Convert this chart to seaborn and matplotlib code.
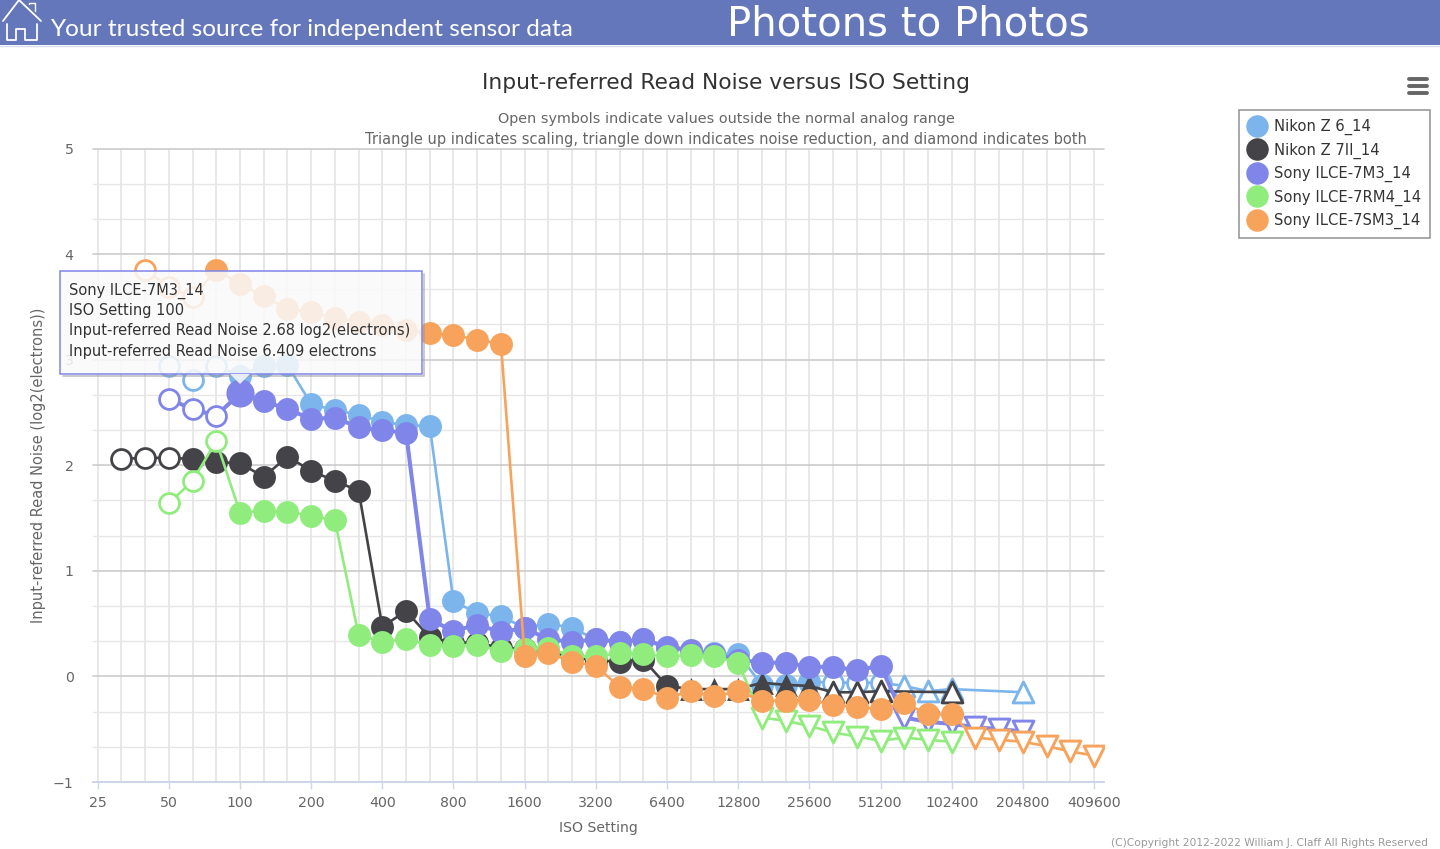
import matplotlib
matplotlib.use("Agg")
import matplotlib.pyplot as plt
from matplotlib.lines import Line2D
from matplotlib.patches import FancyBboxPatch, Polygon, Rectangle
from matplotlib.ticker import FixedLocator, FixedFormatter, NullFormatter
import numpy as np
import pandas as pd
import seaborn as sns

# ISO settings in third stops, from 25 up to 409600
iso_steps = [25, 31.5, 39.7, 50, 63, 79.4, 100, 126, 158.7, 200, 252, 317.5, 400, 504, 635,
             800, 1008, 1270, 1600, 2016, 2540, 3200, 4032, 5080, 6400, 8063, 10159, 12800,
             16127, 20319, 25600, 32254, 40637, 51200, 64508, 81275, 102400, 129016, 162550,
             204800, 258032, 325100, 409600]
iso_ticks = [25, 50, 100, 200, 400, 800, 1600, 3200, 6400, 12800, 25600, 51200, 102400, 204800, 409600]
iso_labels = ["25", "50", "100", "200", "400", "800", "1600", "3200", "6400", "12800", "25600",
              "51200", "102400", "204800", "409600"]
noise_ticks = [-1, 0, 1, 2, 3, 4, 5]

names = ["Nikon Z 6_14", "Nikon Z 7II_14", "Sony ILCE-7M3_14", "Sony ILCE-7RM4_14", "Sony ILCE-7SM3_14"]

z6_noise = [None] * 3 + [2.94, 2.81, 2.94, 2.85, 2.94, 2.95, 2.58, 2.52, 2.48, 2.41, 2.38, 2.37,
                         0.71, 0.60, 0.57, 0.46, 0.50, 0.46, 0.35, 0.33, 0.35, 0.27, 0.24, 0.22, 0.21,
                         -0.08, -0.08, -0.05, -0.06, -0.06, -0.06, -0.09, -0.14, -0.12,
                         None, None, -0.15] + [None] * 3
z6_state = ["open"] * 3 + ["fill"] * 25 + ["open"] * 3 + ["up"] * 4

z7_noise = [None] + [2.06, 2.07, 2.07, 2.06, 2.03, 2.02, 1.89, 2.08, 1.95, 1.85, 1.76,
                     0.47, 0.62, 0.37, 0.32, 0.32, 0.27, 0.26, 0.24, 0.18, 0.15, 0.14, 0.16, -0.09,
                     -0.12, -0.12, -0.12, -0.06, -0.08, -0.09, -0.15, -0.15, -0.14,
                     None, None, -0.15] + [None] * 6
z7_state = ["open"] * 3 + ["fill"] * 21 + ["up_fill"] * 6 + ["up"] * 4

m3_noise = [None] * 3 + [2.63, 2.53, 2.47, 2.68, 2.61, 2.53, 2.44, 2.45, 2.36, 2.33, 2.31,
                         0.54, 0.43, 0.49, 0.42, 0.46, 0.35, 0.33, 0.35, 0.33, 0.35, 0.28, 0.25, 0.21,
                         0.16, 0.13, 0.13, 0.09, 0.09, 0.06, 0.10,
                         -0.39, -0.43, -0.45, -0.48, -0.50, -0.52] + [None] * 3
m3_state = ["open"] * 3 + ["fill"] * 28 + ["down"] * 6

rm4_noise = [None] * 3 + [1.64, 1.85, 2.23, 1.55, 1.57, 1.56, 1.52, 1.48,
                          0.39, 0.33, 0.35, 0.30, 0.29, 0.30, 0.24, 0.26, 0.27, 0.19, 0.19, 0.22, 0.21,
                          0.19, 0.20, 0.19, 0.13,
                          -0.39, -0.42, -0.47, -0.53, -0.57, -0.61, -0.58, -0.60, -0.62] + [None] * 6
rm4_state = ["open"] * 3 + ["fill"] * 22 + ["down"] * 9

sm3_noise = [None] * 2 + [3.85, 3.69, 3.59, 3.85, 3.72, 3.60, 3.48, 3.45, 3.39, 3.36, 3.33, 3.28,
                          3.25, 3.23, 3.19, 3.15,
                          0.19, 0.22, 0.14, 0.10, -0.10, -0.12, -0.20, -0.14, -0.19, -0.14,
                          -0.23, -0.23, -0.22, -0.27, -0.29, -0.31, -0.25, -0.36, -0.36,
                          -0.58, -0.60, -0.62, -0.66, -0.71, -0.75]
sm3_state = ["open"] * 3 + ["fill"] * 32 + ["down"] * 6

noise_lists = [z6_noise, z7_noise, m3_noise, rm4_noise, sm3_noise]
state_lists = [z6_state, z7_state, m3_state, rm4_state, sm3_state]
colors = ["#7cb5ec", "#434348", "#8085e9", "#90ed7d", "#f7a35c"]

W, H = 1440, 849
sns.set_theme(style="white")
plt.rcParams["font.family"] = ["DejaVu Sans"]

fig = plt.figure(figsize=(W / 100, H / 100), dpi=100, facecolor="white")


def fx(x):
    return x / W


def fy(y):
    return 1 - y / H


def px_line(xs, ys, **kw):
    fig.add_artist(Line2D([fx(x) for x in xs], [fy(y) for y in ys], transform=fig.transFigure, **kw))


# plot area
ax = fig.add_axes([fx(93), fy(782), fx(1104 - 93), (782 - 148.5) / H])
ax.set_xscale("log", base=2)
ax.set_xlim(23.9, 451400)
ax.set_ylim(-1, 5)

ax.xaxis.set_major_locator(FixedLocator(iso_ticks))
ax.xaxis.set_major_formatter(FixedFormatter(iso_labels))
ax.xaxis.set_minor_locator(FixedLocator(iso_steps))
ax.xaxis.set_minor_formatter(NullFormatter())
ax.yaxis.set_major_locator(FixedLocator(noise_ticks))
ax.yaxis.set_minor_locator(FixedLocator(np.arange(-3, 15) / 3))
ax.yaxis.set_minor_formatter(NullFormatter())

ax.grid(True, axis="x", which="both", color="#e4e4e4", lw=1.2)
ax.grid(True, axis="y", which="major", color="#cccccc", lw=1.2)
ax.grid(True, axis="y", which="minor", color="#e6e6e6", lw=1.0)
ax.set_axisbelow(True)
for line in ax.get_ygridlines():
    line.set_clip_on(False)
for side in ["top", "right", "left"]:
    ax.spines[side].set_visible(False)
ax.spines["bottom"].set_color("#ccd6eb")
ax.spines["bottom"].set_linewidth(1.2)
ax.tick_params(axis="x", which="major", length=5, width=1, color="#ccd6eb", labelsize=10.2,
               labelcolor="#666666", pad=5, bottom=True)
ax.tick_params(axis="x", which="minor", length=0)
ax.tick_params(axis="y", which="both", length=0, labelsize=10.2, labelcolor="#666666", pad=14)

state_style = {
    "fill": dict(marker="o", s=272, facecolor="series", edge=0),
    "open": dict(marker="o", s=205, facecolor="white", edge=2.0),
    "up": dict(marker="^", s=225, facecolor="white", edge=2.1),
    "up_fill": dict(marker="^", s=270, facecolor="series", edge=0),
    "down": dict(marker="v", s=225, facecolor="white", edge=2.1),
}

for i, (name, noise, state, color) in enumerate(zip(names, noise_lists, state_lists, colors)):
    df = pd.DataFrame({"iso": iso_steps, "noise": noise}).dropna().reset_index(drop=True)
    df["state"] = state
    hovered = name == "Sony ILCE-7M3_14"
    sns.lineplot(data=df, x="iso", y="noise", color=color, lw=2.9 if hovered else 1.9,
                 estimator=None, sort=False, legend=False, ax=ax, zorder=3 + i)
    for key, style in state_style.items():
        part = df[df["state"] == key]
        if part.empty:
            continue
        face = color if style["facecolor"] == "series" else style["facecolor"]
        sns.scatterplot(data=part, x="iso", y="noise", marker=style["marker"], s=style["s"],
                        color=face, edgecolor=color, linewidth=style["edge"], legend=False,
                        ax=ax, zorder=3.5 + i)
    if hovered:
        # the point under the cursor is drawn larger
        sns.scatterplot(data=df[df["iso"] == 100], x="iso", y="noise", marker="o", s=410, color=color,
                        linewidth=0, legend=False, ax=ax, zorder=3.5 + i)

ax.set_xlabel("")
ax.set_ylabel("")
fig.text(fx(598), fy(828), "ISO Setting", ha="center", va="center", fontsize=10.1, color="#666666")
fig.text(fx(39), fy(465), "Input-referred Read Noise (log2(electrons))", rotation=90, ha="center",
         va="center", fontsize=10.5, color="#666666")

# header banner
fig.add_artist(Rectangle((0, fy(45)), 1, 45 / H, transform=fig.transFigure, facecolor="#6577bb", edgecolor="none"))
px_line([0, W], [45.5, 45.5], color="#d9dcea", lw=1)
fig.text(fx(50), fy(30), "Your trusted source for independent sensor data", ha="left", va="center",
         fontsize=17.6, color="white", family="Lato")
fig.text(fx(908), fy(24), "Photons to Photos", ha="center", va="center", fontsize=29, color="white")
px_line([3, 19, 41], [21, 0, 21], color="white", lw=1.3)
px_line([29, 29, 35, 35], [4, 3, 3, 11], color="white", lw=1.0)
px_line([7, 7, 16, 16, 25, 25, 37, 37], [24, 40, 40, 29, 29, 40, 40, 24], color="white", lw=1.3)

# titles
fig.text(fx(726), fy(83), "Input-referred Read Noise versus ISO Setting", ha="center", va="center",
         fontsize=15.7, color="#333333")
fig.text(fx(726), fy(118.5), "Open symbols indicate values outside the normal analog range", ha="center",
         va="center", fontsize=10.35, color="#666666")
fig.text(fx(726), fy(139.5), "Triangle up indicates scaling, triangle down indicates noise reduction, and diamond indicates both",
         ha="center", va="center", fontsize=10.5, color="#666666")

# legend
handles = [Line2D([], [], marker="o", ls="none", ms=16.2, mfc=c, mec="none") for c in colors]
leg = fig.legend(handles, names, loc="upper left", bbox_to_anchor=(fx(1239), fy(110)), frameon=True, fancybox=False,
                 edgecolor="#999999", facecolor="white", framealpha=1, fontsize=10.6, labelcolor="#333333",
                 handlelength=1.2, handletextpad=0.6, labelspacing=0.5, borderpad=0.6, borderaxespad=0)
leg.get_frame().set_linewidth(1.2)

# context menu icon
for y in [79, 86, 92.5]:
    px_line([1408.5, 1427], [y, y], color="#666666", lw=2.8, solid_capstyle="round")

# tooltip
px_line([424, 424, 63], [274, 376, 376], color="#999999", lw=1.2, alpha=0.6, zorder=20)
fig.add_artist(FancyBboxPatch((fx(60), fy(374)), 362 / W, 103 / H, boxstyle="square,pad=0", transform=fig.transFigure,
                              facecolor=(0.98, 0.98, 0.98, 0.86), edgecolor="#8085e9", lw=1.1, zorder=21))
fig.add_artist(Polygon([(fx(230), fy(374)), (fx(250), fy(374)), (fx(240), fy(384))], closed=True,
                       transform=fig.transFigure, facecolor=(0.98, 0.98, 0.98, 0.86), edgecolor="none", zorder=21))
tip_lines = ["Sony ILCE-7M3_14", "ISO Setting 100", "Input-referred Read Noise 2.68 log2(electrons)",
             "Input-referred Read Noise 6.409 electrons"]
for y, line in zip([291, 311, 331, 351], tip_lines):
    fig.text(fx(69), fy(y), line, ha="left", va="center", fontsize=10.5, color="#333333", zorder=22)

# footer
fig.text(fx(1428), fy(848), "(C)Copyright 2012-2022 William J. Claff All Rights Reserved", ha="right", va="bottom",
         fontsize=7.7, color="#999999")

fig.savefig("out.png", dpi=100)
